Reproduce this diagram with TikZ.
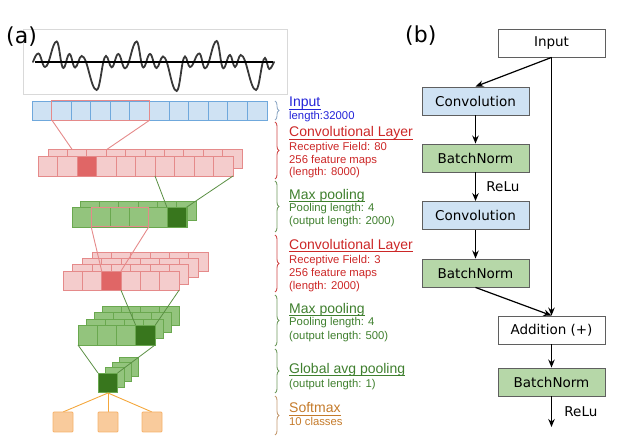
\documentclass[tikz,border=0pt]{standalone}
\usepackage{fontspec}
\setmainfont{DejaVu Sans}
\newfontfamily\arialf{Liberation Sans}
\usetikzlibrary{arrows.meta,decorations.pathreplacing}
\definecolor{bluefill}{HTML}{CFE2F3}
\definecolor{blueedge}{HTML}{6FA8DC}
\definecolor{redfill}{HTML}{F4CCCC}
\definecolor{rededge}{HTML}{E58A8A}
\definecolor{reddark}{HTML}{E06666}
\definecolor{greenfill}{HTML}{93C47D}
\definecolor{greenedge}{HTML}{6AA84F}
\definecolor{greendark}{HTML}{38761D}
\definecolor{orangefill}{HTML}{F9CB9C}
\definecolor{orangeedge}{HTML}{F6B26B}
\definecolor{orangeline}{HTML}{F4A73C}
\definecolor{txtblue}{HTML}{2323D8}
\definecolor{txtred}{HTML}{CC2727}
\definecolor{txtgreen}{HTML}{3F7F2E}
\definecolor{txtorange}{HTML}{C47A2A}
\definecolor{brblue}{HTML}{8FA9C6}
\definecolor{brred}{HTML}{D04848}
\definecolor{brgreen}{HTML}{6E9A5E}
\definecolor{brorange}{HTML}{C49A70}
\definecolor{bnfill}{HTML}{B6D7A8}
\definecolor{boxedge}{HTML}{5F5F5F}
\newcommand{\cellrow}[6]{%
  \foreach \ci in {1,...,#3} {\draw[#6] ({#1+(\ci-1)*#4},#2) rectangle ++(#4,#5);}}
\begin{document}
\begin{tikzpicture}[x=1pt,y=-1pt,
  bcell/.style={draw=blueedge,fill=bluefill,line width=0.9pt},
  rcell/.style={draw=rededge,fill=redfill,line width=0.9pt},
  rdark/.style={draw=rededge,fill=reddark,line width=0.9pt},
  gcell/.style={draw=greenedge,fill=greenfill,line width=0.9pt},
  gdark/.style={draw=greenedge,fill=greendark,line width=0.9pt},
  ocell/.style={draw=orangeedge,fill=orangefill,line width=0.9pt,rounded corners=1pt},
  rlink/.style={draw=rededge,line width=0.9pt},
  glink/.style={draw=greenedge!85!black,line width=0.8pt},
  olink/.style={draw=orangeline,line width=0.9pt},
  brc/.style={decorate,decoration={brace,amplitude=4pt},line width=0.9pt},
  ttl/.style={anchor=base west,inner sep=0,font=\arialf\fontsize{14}{16}\selectfont},
  sml/.style={anchor=base west,inner sep=0,font=\arialf\fontsize{11.3}{13}\selectfont},
  box/.style={draw=boxedge,line width=0.9pt,minimum width=107pt,minimum height=28pt,inner sep=0,font=\fontsize{13.5}{16}\selectfont},
  arr/.style={-{Stealth[length=8pt,width=6.5pt]},line width=1.2pt},
  wave/.style={line width=1.8pt,draw=black!78,line cap=round}
]
\useasboundingbox (0,0) rectangle (635,446);
% ---------- panel (a) ----------
\draw[black!15,line width=0.8pt] (23,29) rectangle (287,94);
\draw[wave] (33,62) .. controls +(1.5,-4) and +(-2,0) .. (38.3,53.5)
 .. controls +(2.7,0) and +(-2.7,0) .. (45,67)
 .. controls +(4.7,0) and +(-4.7,0) .. (56.7,41.5)
 .. controls +(2.6,0) and +(-2.6,0) .. (63.3,68)
 .. controls +(2.5,0) and +(-2.5,0) .. (69.5,54)
 .. controls +(2.2,0) and +(-2.2,0) .. (75,67.5)
 .. controls +(2.7,0) and +(-2.7,0) .. (81.7,56)
 .. controls +(6,0) and +(-6,0) .. (96.7,90)
 .. controls +(3.7,0) and +(-3.7,0) .. (106,56)
 .. controls +(2.3,0) and +(-2.3,0) .. (111.7,67.3)
 .. controls +(2.6,0) and +(-2.6,0) .. (118.3,54)
 .. controls +(2.7,0) and +(-2.7,0) .. (125,68.3)
 .. controls +(4.7,0) and +(-4.7,0) .. (136.7,41.5)
 .. controls +(2.6,0) and +(-2.6,0) .. (143.3,67.5)
 .. controls +(2.7,0) and +(-2.7,0) .. (150,54)
 .. controls +(2.6,0) and +(-2.6,0) .. (156.5,68)
 .. controls +(2.6,0) and +(-2.6,0) .. (163,56.5)
 .. controls +(5.5,0) and +(-5.5,0) .. (176.7,91)
 .. controls +(3.3,0) and +(-3.3,0) .. (185,56.5)
 .. controls +(2,0) and +(-2,0) .. (190,67)
 .. controls +(3.7,0) and +(-3.7,0) .. (199.3,53.5)
 .. controls +(2.3,0) and +(-2.3,0) .. (205,68.3)
 .. controls +(4.7,0) and +(-4.7,0) .. (216.7,41)
 .. controls +(2.6,0) and +(-2.6,0) .. (223.3,68.3)
 .. controls +(2.7,0) and +(-2.7,0) .. (230,55)
 .. controls +(2,0) and +(-2,0) .. (235,67)
 .. controls +(2.3,0) and +(-2.3,0) .. (240.7,55)
 .. controls +(6.1,0) and +(-6.1,0) .. (256,90)
 .. controls +(3.6,0) and +(-3.6,0) .. (265,58)
 .. controls +(1.7,0) and +(-1.7,0) .. (269.3,69)
 .. controls +(1.7,0) and +(-1.5,3) .. (274,62);
\draw[line width=1.3pt] (35,62) -- (273,62);
\node[anchor=base west,inner sep=0,font=\fontsize{22}{26}\selectfont] (la) at (6,43.5) {(a)};
% input row
\cellrow{32}{101}{12}{19.58}{19.3}{bcell}
% links input -> conv1 (behind conv1)
\draw[rlink] (52,120.3) -- (77,156.5);
\draw[rlink] (149.5,120.3) -- (96.5,156.5);
\draw[rededge,line width=1pt] (51.6,101) rectangle (149.5,120.3);
% conv1
\cellrow{48}{149}{10}{19.4}{19.5}{rcell}
\cellrow{38}{156.5}{10}{19.5}{19.5}{rcell}
\draw[rdark] (77,156.5) rectangle ++(19.5,19.5);
% maxpool1
\cellrow{80}{201}{6}{19.33}{19.3}{gcell}
\draw[glink] (155,176) -- (167,207.5);
\draw[glink] (233,176) -- (186.2,207.5);
\cellrow{72}{207.5}{6}{19.17}{19.5}{gcell}
\draw[gdark] (167,207.5) rectangle ++(19.17,19.5);
\draw[rededge,line width=1pt] (91.2,207.5) rectangle (148.7,227);
% conv2
\foreach \k in {3,2,1} {\cellrow{63+9.67*\k}{271-6.33*\k}{6}{19.33}{19.3}{rcell}}
\draw[rlink] (91.2,227) -- (101.7,271);
\draw[rlink] (148.7,227) -- (121,271);
\cellrow{63}{271}{6}{19.33}{19.3}{rcell}
\draw[rdark] (101.7,271) rectangle ++(19.33,19.3);
% maxpool2
\foreach \k in {3,2,1} {\cellrow{78+8*\k}{325.5-6.4*\k}{4}{19.25}{19.5}{gcell}}
\draw[glink] (121,290.3) -- (135.8,325.5);
\draw[glink] (179,290.3) -- (155,325.5);
\cellrow{78}{325.5}{4}{19.25}{19.5}{gcell}
\draw[gdark] (135.75,325.5) rectangle ++(19.25,19.5);
% global avg
\foreach \k in {3,2,1} {\draw[gcell] (98+7*\k,373-5.3*\k) rectangle ++(19.5,19.5);}
\draw[glink] (78,345) -- (98,373);
\draw[glink] (155,345) -- (117.5,373);
\draw[gdark] (98,373) rectangle (117.5,392.5);
\coordinate (gout) at (108,393);
% softmax
\foreach \sx/\nm in {53/s1,98/s2,142/s3} {
  \coordinate (\nm) at (\sx+10,412);
  \draw[olink] (gout) -- (\nm);
  \draw[ocell] (\sx,412) rectangle ++(20,20);}
% braces
\draw[brc,brblue]   (275,101) -- (275,120);
\draw[brc,brred]    (275,122) -- (275,179);
\draw[brc,brgreen]  (275,181) -- (275,232);
\draw[brc,brred]    (275,235) -- (275,292);
\draw[brc,brgreen]  (275,295) -- (275,346);
\draw[brc,brgreen]  (275,349) -- (275,393);
\draw[brc,brorange] (275,396) -- (275,435);
% labels
\node[ttl,txtblue] (t1) at (289,106.7) {Input};
\node[sml,txtblue] (t1a) at (289,119.3) {length:32000};
\node[ttl,txtred] (t2) at (289,136.7) {Convolutional Layer};
\node[sml,txtred] (t2a) at (289,150.7) {Receptive Field: 80};
\node[sml,txtred] (t2b) at (289,163.3) {256 feature maps};
\node[sml,txtred] (t2c) at (289,175.7) {(length: 8000)};
\node[ttl,txtgreen] (t3) at (289,199.5) {Max pooling};
\node[sml,txtgreen] (t3a) at (289,212) {Pooling length: 4};
\node[sml,txtgreen] (t3b) at (289,225) {(output length: 2000)};
\node[ttl,txtred] (t4) at (289,249.3) {Convolutional Layer};
\node[sml,txtred] (t4a) at (289,264) {Receptive Field: 3};
\node[sml,txtred] (t4b) at (289,276.7) {256 feature maps};
\node[sml,txtred] (t4c) at (289,289.3) {(length: 2000)};
\node[ttl,txtgreen] (t5) at (289,313.3) {Max pooling};
\node[sml,txtgreen] (t5a) at (289,326) {Pooling length: 4};
\node[sml,txtgreen] (t5b) at (289,340) {(output length: 500)};
\node[ttl,txtgreen] (t6) at (289,373.3) {Global avg pooling};
\node[sml,txtgreen] (t6a) at (289,387.7) {(output length: 1)};
\node[ttl,txtorange] (t7) at (289,412.7) {Softmax};
\node[sml,txtorange] (t7a) at (289,426) {10 classes};
\foreach \t/\c in {t1/txtblue,t2/txtred,t3/txtgreen,t4/txtred,t5/txtgreen,t6/txtgreen,t7/txtorange}
  \draw[\c,line width=0.8pt] ([yshift=-2.4pt]\t.base west) -- ([yshift=-2.4pt]\t.base east);
% ---------- panel (b) ----------
\node[anchor=base west,inner sep=0,font=\fontsize{22}{26}\selectfont] (lb) at (405,43) {(b)};
\node[box,fill=white] (in) at (551.5,43) {Input};
\node[box,fill=bluefill] (c1) at (475.5,101) {Convolution};
\node[box,fill=bnfill] (b1) at (475.5,158) {BatchNorm};
\node[box,fill=bluefill] (c2) at (475.5,215.5) {Convolution};
\node[box,fill=bnfill] (b2) at (475.5,273) {BatchNorm};
\node[box,fill=white] (ad) at (551.5,330) {Addition (+)};
\node[box,fill=bnfill] (b3) at (551.5,382) {BatchNorm};
\coordinate (out) at (551.5,427);
\draw[arr] (in.south) -- (c1.north);
\draw[arr] (in.south) -- (ad.north);
\draw[arr] (c1) -- (b1);
\draw[arr] (b1) -- node[right=7pt,font=\fontsize{13.5}{16}\selectfont] (r1) {ReLu} (c2);
\draw[arr] (c2) -- (b2);
\draw[arr] (b2.south) -- (ad.north);
\draw[arr] (ad) -- (b3);
\draw[arr] (b3) -- node[right=9pt,font=\fontsize{13.5}{16}\selectfont] (r2) {ReLu} (out);
\end{tikzpicture}
\end{document}
